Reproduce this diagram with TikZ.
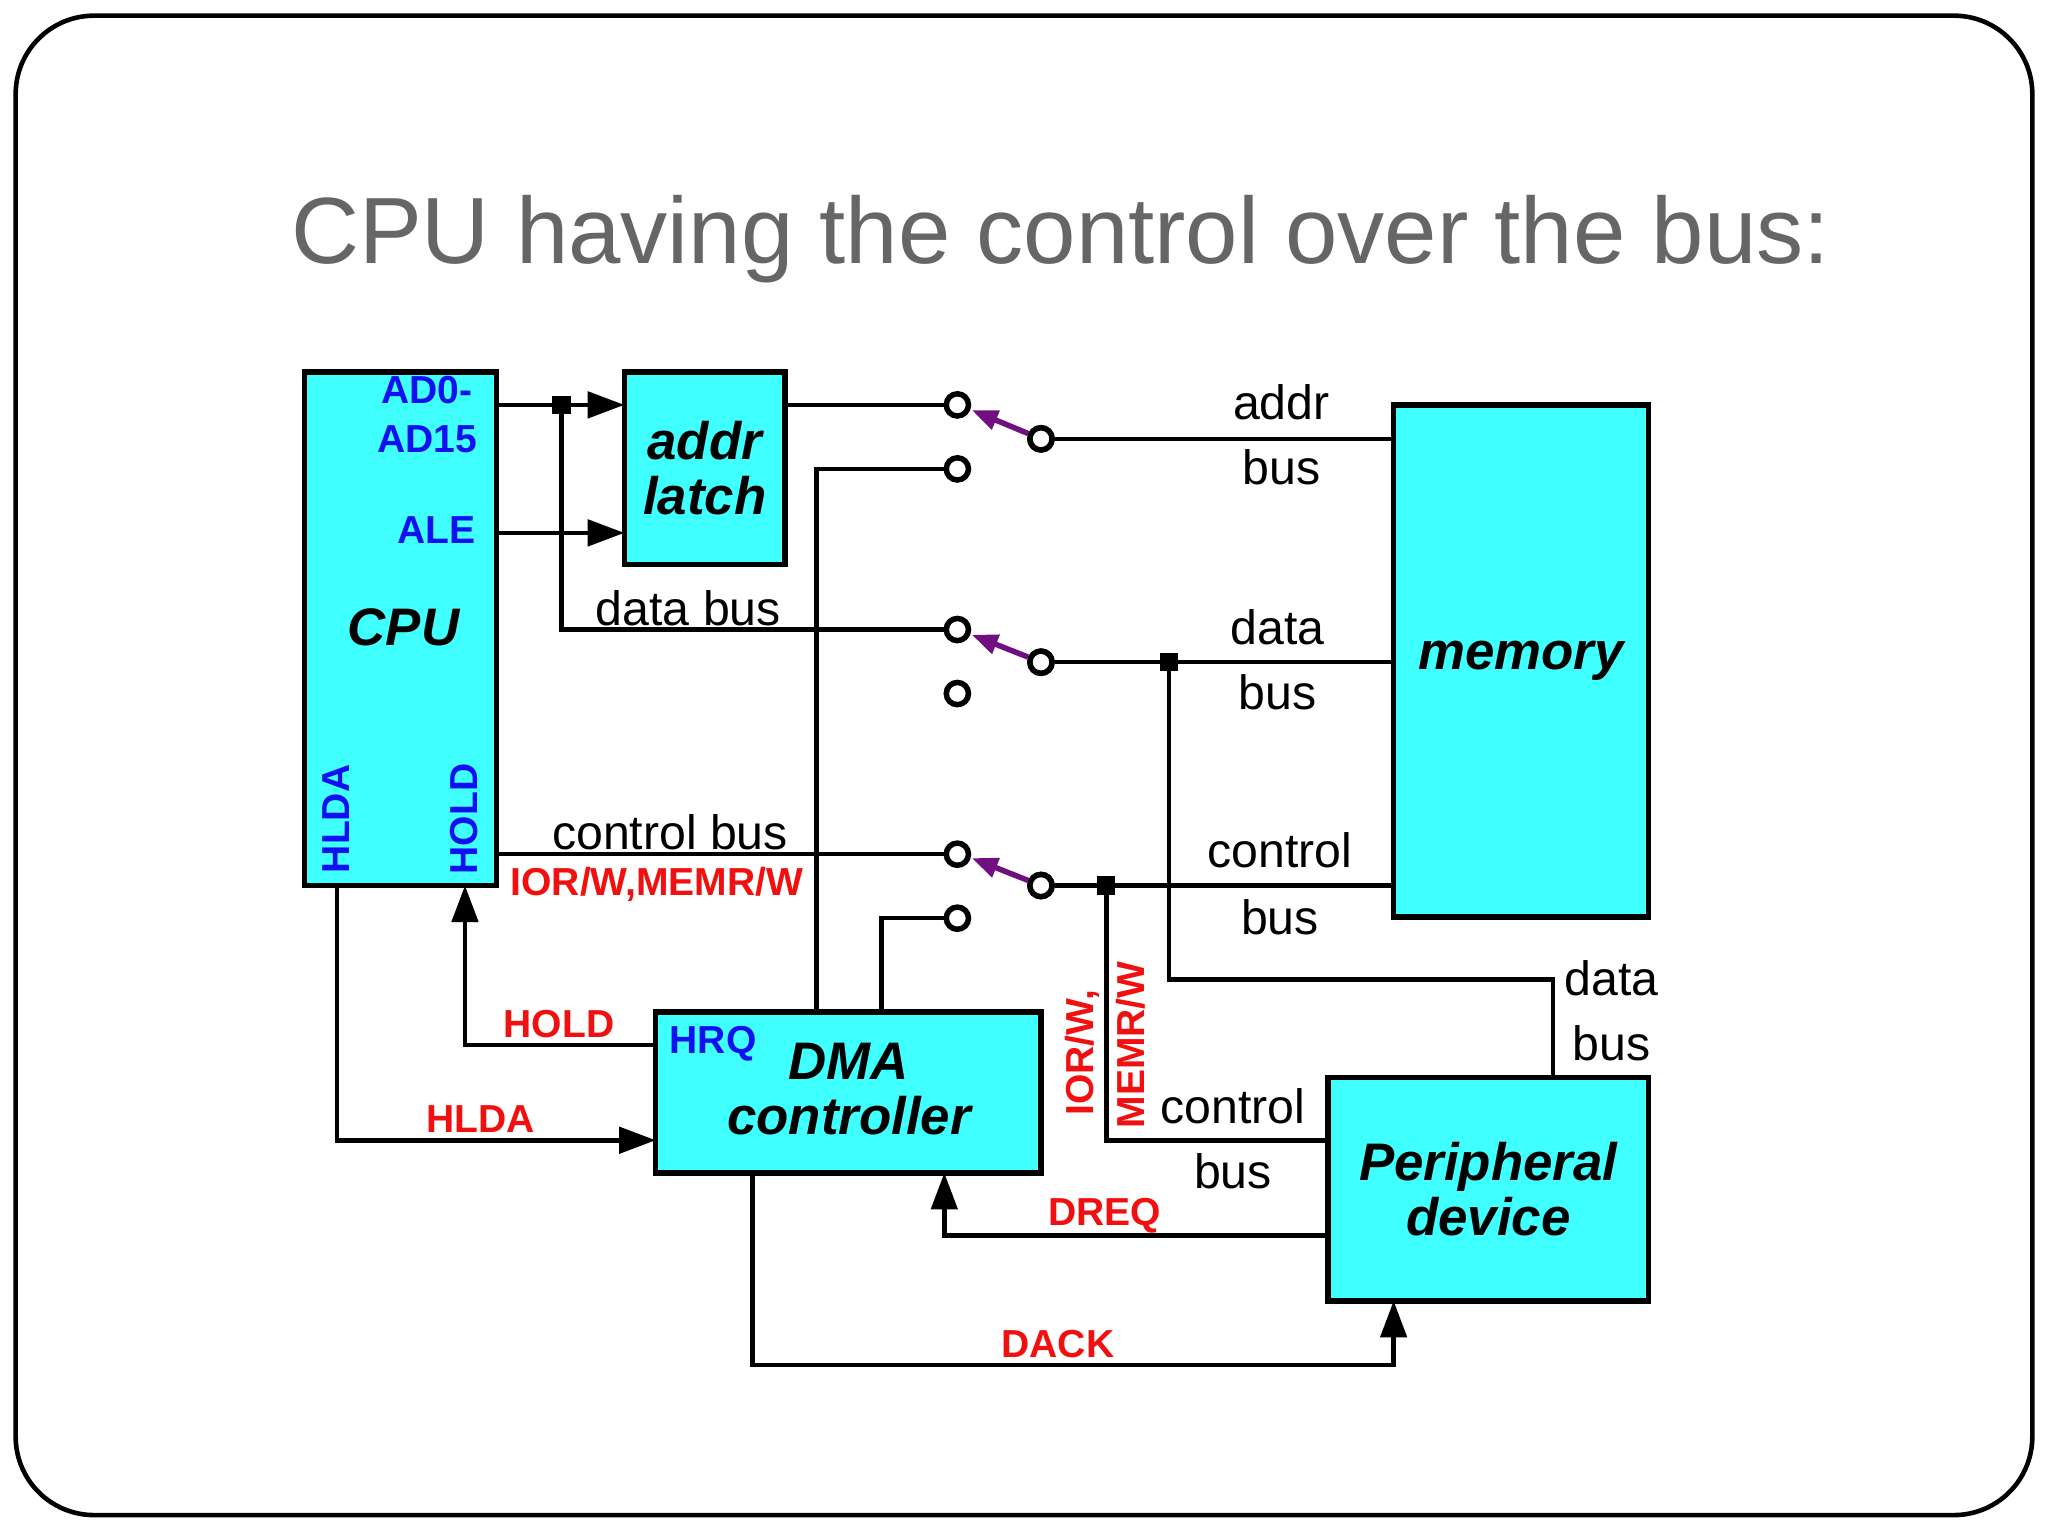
\documentclass[tikz,border=0pt]{standalone}
\usepackage{fontspec}
\setmainfont{Liberation Sans}
\usetikzlibrary{arrows.meta}
\definecolor{cy}{HTML}{40FFFF}
\definecolor{bl}{HTML}{1010F0}
\definecolor{rd}{HTML}{F01010}
\definecolor{pu}{HTML}{701080}
\tikzset{
 box/.style={draw,line width=1.2pt,fill=cy,inner sep=0},
 ln/.style={line width=1pt},
 ar/.style={ln,-{Triangle[length=0.28cm,width=0.2cm]}},
 sw/.style={draw,line width=1.2pt,fill=white,circle,minimum size=0.17cm,inner sep=0},
 sq/.style={fill=black,minimum size=0.14cm,inner sep=0},
 bus/.style={font=\fontsize{10.5}{12}\selectfont},
 nm/.style={font=\fontsize{11.5}{13}\selectfont\bfseries\itshape},
 bt/.style={font=\fontsize{8.5}{10}\selectfont\bfseries,text=bl},
 rt/.style={font=\fontsize{8.5}{10}\selectfont\bfseries,text=rd},
 pa/.style={line width=1.2pt,pu,-{Triangle[length=0.2cm,width=0.15cm]}}
}
\begin{document}
\begin{tikzpicture}[x=0.01cm,y=-0.01cm]
\useasboundingbox (0,0) rectangle (1568,1176);
\draw[line width=1pt,rounded corners=0.6cm] (12,12) rectangle (1556,1160);
\node[text=black!60,font=\fontsize{20.5}{24}\selectfont] (title) at (812,183) {CPU having the control over the bus:};
% boxes
\node[box,minimum width=1.47cm,minimum height=3.93cm] (cpu) at (306.5,481.5) {};
\node[nm] (cpul) at (309,480) {CPU};
\node[box,minimum width=1.23cm,minimum height=1.47cm,align=center,nm] (latch) at (539.5,358.5) {addr\\[-1pt]latch};
\node[box,minimum width=1.95cm,minimum height=3.92cm,nm] (mem) at (1164.5,506) {memory};
\node[box,minimum width=2.95cm,minimum height=1.23cm] (dma) at (649.5,836.5) {};
\node[nm,align=center] (dmal) at (650,834) {DMA\\[-1pt]controller};
\node[box,minimum width=2.45cm,minimum height=1.71cm,align=center,nm] (per) at (1139.5,910.5) {Peripheral\\[-1pt]device};
% switches
\node[sw] (a1) at (733,310) {}; \node[sw] (a2) at (733,359) {}; \node[sw] (ap) at (797,336) {};
\node[sw] (d1) at (733,482) {}; \node[sw] (d2) at (733,531) {}; \node[sw] (dp) at (797,507) {};
\node[sw] (c1) at (733,654) {}; \node[sw] (c2) at (733,703) {}; \node[sw] (cp) at (797,678) {};
\coordinate (k1) at (430,310);
\coordinate (k2) at (895,507);
\coordinate (k3) at (847,678);
% lines
\draw[ar] (380,310) -- (478,310);
\draw[ar] (380,408) -- (478,408);
\draw[ln] (k1) -- (430,482) -- (d1);
\draw[ln] (601,310) -- (a1);
\draw[ln] (ap) -- (1067,336);
\draw[ln] (a2) -- (625,359) -- (625,775);
\draw[ln] (dp) -- (1067,507);
\draw[ln] (k2) -- (895,750) -- (1189,750) -- (1189,825);
\draw[ln] (380,654) -- (c1);
\draw[ln] (c2) -- (675,703) -- (675,775);
\draw[ln] (cp) -- (1067,678);
\draw[ln] (k3) -- (847,873) -- (1017,873);
\draw[ar] (502,800) -- (356,800) -- (356,678);
\draw[ar] (258,678) -- (258,873) -- (502,873);
\draw[ar] (1017,946) -- (723,946) -- (723,898);
\draw[ar] (576,898) -- (576,1045) -- (1067,1045) -- (1067,996);
\node[sq] (s1) at (k1) {}; \node[sq] (s2) at (k2) {}; \node[sq] (s3) at (k3) {};
\draw[pa] (ap) -- (744,314);
\draw[pa] (dp) -- (744,486);
\draw[pa] (cp) -- (744,657);
\node[sw] at (ap) {}; \node[sw] at (dp) {}; \node[sw] at (cp) {};
% labels
\node[bt] (t1) at (327,299) {AD0-};
\node[bt] (t2) at (327,336) {AD15};
\node[bt] (t3) at (334,406) {ALE};
\node[bt,rotate=90] (t4) at (257,627) {HLDA};
\node[bt,rotate=90] (t5) at (355,627) {HOLD};
\node[bt] (t6) at (546,799) {HRQ};
\node[bus] (b1) at (527,466) {data bus};
\node[bus] (b2) at (981,308) {addr}; \node[bus] (b3) at (981,358) {bus};
\node[bus] (b4) at (978,480) {data}; \node[bus] (b5) at (978,530) {bus};
\node[bus] (b6) at (980,651) {control}; \node[bus] (b7) at (980,702) {bus};
\node[bus] (b8) at (513,637) {control bus};
\node[bus] (b9) at (944,847) {control}; \node[bus] (b10) at (944,897) {bus};
\node[bus] (b11) at (1234,749) {data}; \node[bus] (b12) at (1234,799) {bus};
\node[rt] (r1) at (503,677) {IOR/W,MEMR/W};
\node[rt] (r2) at (428,784) {HOLD};
\node[rt] (r3) at (368,857) {HLDA};
\node[rt,rotate=90] (r4) at (829,806) {IOR/W,};
\node[rt,rotate=90] (r5) at (866,800) {MEMR/W};
\node[rt] (r6) at (846,931) {DREQ};
\node[rt] (r7) at (810,1029) {DACK};
\end{tikzpicture}
\end{document}
